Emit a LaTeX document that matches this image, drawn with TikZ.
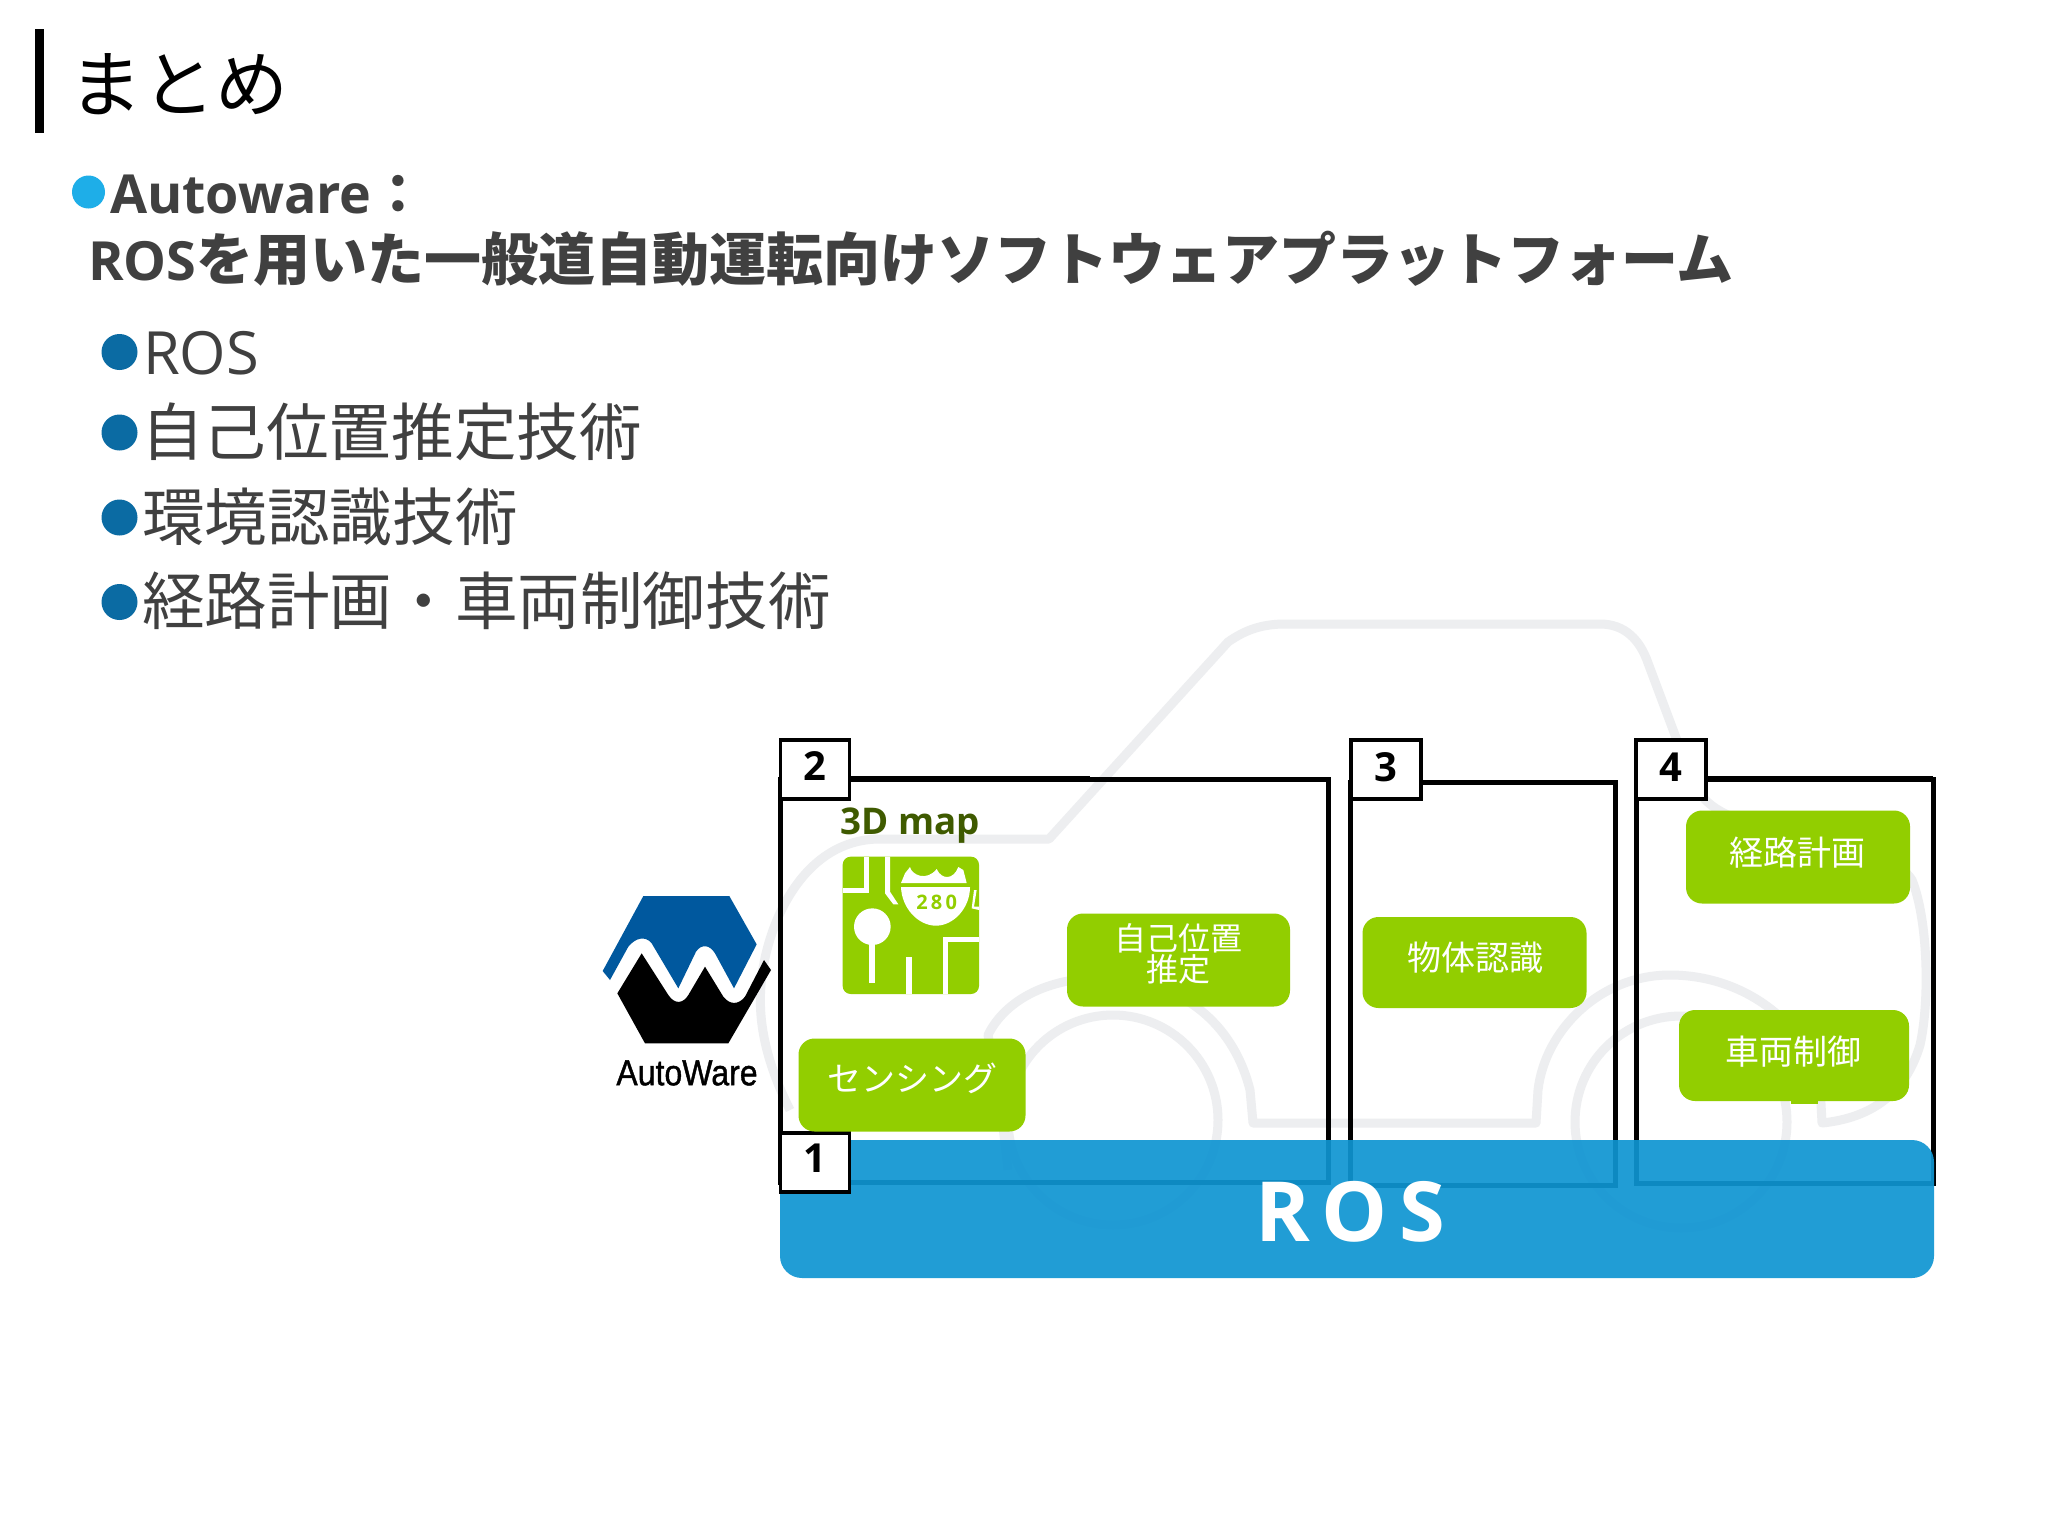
\documentclass[tikz,border=0pt]{standalone}
\usepackage{fontspec}
\setmainfont{Open Sans}
\newfontfamily\jp{Noto Sans CJK JP}
\newfontfamily\logofont{Liberation Sans}[FakeBold=1.2]
\definecolor{ink}{HTML}{404040}
\definecolor{leaf}{HTML}{92CE00}
\definecolor{rosblue}{HTML}{0F95D2}
\definecolor{carline}{HTML}{EDEEF0}
\definecolor{bulletlight}{HTML}{1EAEE8}
\definecolor{bulletdark}{HTML}{0B6BA3}
\definecolor{logoblue}{HTML}{00589E}
\definecolor{mapink}{HTML}{3F5A00}
\tikzset{
  txt/.style={inner sep=0pt,outer sep=0pt,text=ink,anchor=west},
  body/.style={txt,font=\jp\fontsize{31.3}{33}\selectfont},
  leafbox/.style={fill=leaf,rounded corners=8pt,inner sep=0pt,outer sep=0pt},
  leaftxt/.style={inner sep=0pt,text=white,align=center,font=\jp\fontsize{16}{15.5}\selectfont},
  frame/.style={draw=black,line width=2.5pt,line join=miter},
  tag/.style={draw=black,fill=white,line width=1.8pt,inner sep=0pt,minimum width=34.5pt,minimum height=29.5pt},
  tagnum/.style={inner sep=0pt,text=black,font=\bfseries\fontsize{20}{20}\selectfont},
  car/.style={draw=carline,line width=4.5pt,line join=round},
  bull/.style={circle,inner sep=0pt,outer sep=0pt,minimum size=18pt,fill=bulletdark}
}
\begin{document}
\begin{tikzpicture}[x=0.5pt,y=-0.5pt]
\useasboundingbox (0,0) rectangle (2048,1537);
\fill[white] (0,0) rectangle (2048,1537);
% title
\fill[black] (34.5,28.6) rectangle (43.6,133);
\node[txt,text=black,font=\jp\fontsize{36.5}{36}\selectfont] (title) at (69.5,84) {まとめ};
% headline
\node[bull,minimum size=16.5pt,fill=bulletlight] (b0) at (88.5,192) {};
\node[txt,font=\bfseries\fontsize{26.9}{28}\selectfont] (h1) at (110,194) {Autoware{\jp ：}};
\node[txt,font=\bfseries] (h2) at (88,258.6) {{\fontsize{27}{28}\selectfont ROS}{\jp\fontsize{28.5}{30}\selectfont を用いた一般道自動運転向けソフトウェアプラットフォーム}};
% bullets
\node[bull] (b1) at (119.5,352) {};
\node[bull] (b2) at (119.5,432.5) {};
\node[bull] (b3) at (119.5,517.5) {};
\node[bull] (b4) at (119.5,602) {};
\node[txt,font=\fontsize{29.8}{31}\selectfont] (t1) at (143,353) {ROS};
\node[body] (t2) at (141,431.4) {自己位置推定技術};
\node[body] (t3) at (142,517) {環境認識技術};
\node[body] (t4) at (142,601) {経路計画・車両制御技術};
% car outline
\draw[car] (790,1110) .. controls (765,1060) and (758,1020) .. (761,985)
  .. controls (765,930) and (800,839) .. (880,839) -- (1049,839) -- (1228,642)
  .. controls (1245,630) and (1262,624) .. (1285,624) -- (1600,624)
  .. controls (1625,624) and (1640,640) .. (1648,663) -- (1690,775)
  .. controls (1700,800) and (1715,815) .. (1760,825)
  .. controls (1850,840) and (1900,860) .. (1912,880)
  .. controls (1928,920) and (1930,1000) .. (1920,1045)
  .. controls (1905,1095) and (1870,1118) .. (1822,1123)
  -- (1820,1085) .. controls (1810,1030) and (1750,975) .. (1670,975)
  .. controls (1600,975) and (1545,1030) .. (1538,1090) -- (1536,1123)
  -- (1253,1123) -- (1250,1090) .. controls (1235,1030) and (1190,984) .. (1113,978)
  .. controls (1050,975) and (1005,1000) .. (988,1035) -- (1000,1100) -- (1008,1170);
\draw[car] (1113,1120) circle[radius=105];
\draw[car] (1681,1122) circle[radius=106];
% frames
\draw[frame] (780,779) rectangle (1328.5,1182.4);
\draw[frame,line width=3.4pt] (850,779) -- (1090,779);
\draw[frame] (1350,782.6) rectangle (1615,1185);
\draw[frame] (1636,779) rectangle (1933,1183);
\draw[frame,line width=3.4pt] (1706,779) -- (1933,779);
% ROS bar
\node[fill=rosblue,fill opacity=.92,rounded corners=11pt,inner sep=0pt,outer sep=0pt,minimum width=577pt,minimum height=69pt] (ros) at (1357,1209) {};
\node[inner sep=0pt,text=white,font=\bfseries\fontsize{41.5}{41}\selectfont\addfontfeature{LetterSpace=14}] (rost) at (1350.5,1212) {ROS};
% tags
\node[tag] (tag2) at (815,769.6) {};
\node[tagnum] (num2) at (815,766) {2};
\node[tag] (tag1) at (815,1162.5) {};
\node[tagnum] (num1) at (815,1158) {1};
\node[tag,minimum width=35pt] (tag3) at (1386,769.6) {};
\node[tagnum] (num3) at (1386,767) {3};
\node[tag,minimum width=35pt] (tag4) at (1671,769.6) {};
\node[tagnum] (num4) at (1671,767) {4};
% green boxes
\node[leafbox,minimum width=111.5pt,minimum height=46.5pt] (self) at (1178.5,960) {};
\node[leaftxt] (selft) at (1178.5,954) {自己位置\\推定};
\node[leafbox,minimum width=113.5pt,minimum height=46.5pt] (sense) at (912,1085) {};
\node[leaftxt,font=\jp\fontsize{17}{17}\selectfont] (senset) at (912,1078.5) {センシング};
\node[leafbox,minimum width=112pt,minimum height=45.5pt] (obj) at (1474.5,962.5) {};
\node[leaftxt,font=\jp\fontsize{17}{17}\selectfont] (objt) at (1475,958) {物体認識};
\node[leafbox,minimum width=112pt,minimum height=46.5pt] (path) at (1798,857) {};
\node[leaftxt,font=\jp\fontsize{17}{17}\selectfont] (patht) at (1797,853) {経路計画};
\node[leafbox,minimum width=115pt,minimum height=45.5pt] (ctrl) at (1794,1055.5) {};
\fill[leaf] (1791,1098) rectangle (1818,1104);
\node[leaftxt,font=\jp\fontsize{17}{17}\selectfont] (ctrlt) at (1793,1051.5) {車両制御};
% 3D map
\node[inner sep=0pt,text=mapink,font=\bfseries\fontsize{18.4}{18}\selectfont] (map) at (910,826) {3D map};
\begin{scope}[shift={(830,845)},scale=1/3]
  \fill[leaf,rounded corners=4pt] (38,35) rectangle (447,447);
  \fill[white] (103,35) rectangle (118,130);
  \fill[white] (38,130) rectangle (118,143);
  \fill[white] (165,35) -- (180,35) -- (180,140) -- (205,178) -- (190,178) -- (165,145) -- cycle;
  \fill[white] (213,114) -- (225,85) -- (240,66) .. controls (245,90) and (290,110) .. (320,72)
    .. controls (335,105) and (370,105) .. (385,66) -- (400,75) -- (410,114) -- cycle;
  \fill[white] (213,126) -- (420,126) .. controls (420,190) and (370,242) .. (318,242)
    .. controls (265,242) and (215,190) .. (213,126) -- cycle;
  \fill[white] (425,190) -- (447,195) -- (447,185) -- (432,185) -- (440,135) -- (432,135) -- cycle;
  \fill[white] (127,245) circle[radius=55];
  \fill[white] (117,290) rectangle (135,415);
  \fill[white] (228,335) rectangle (245,447);
  \fill[white] (340,275) rectangle (447,290);
  \fill[white] (340,275) rectangle (355,447);
  \node[inner sep=0pt,text=leaf,font=\bfseries\fontsize{10}{10}\selectfont\addfontfeature{LetterSpace=16}] (n280) at (320,172) {280};
\end{scope}
% logo
\begin{scope}[shift={(590,885)},scale=1/3]
  \fill[logoblue] (160,33) -- (418,33) -- (500,178) -- (432,310) -- (375,205)
    .. controls (360,180) and (335,175) .. (318,200) -- (265,310) -- (185,175)
    .. controls (165,150) and (135,160) .. (115,185) -- (60,285) -- (38,258) -- cycle;
  \fill[black] (155,205) -- (235,330) .. controls (255,360) and (280,355) .. (295,330)
    -- (345,245) -- (400,335) .. controls (420,360) and (445,360) .. (465,335)
    -- (522,225) -- (543,255) -- (415,475) -- (165,475) -- (82,325) -- cycle;
\end{scope}
\node[inner sep=0pt,text=black,font=\logofont\fontsize{18}{18}\selectfont] (awname) at (687,1073) {\scalebox{.89}[1]{AutoWare}};
\end{tikzpicture}
\end{document}
